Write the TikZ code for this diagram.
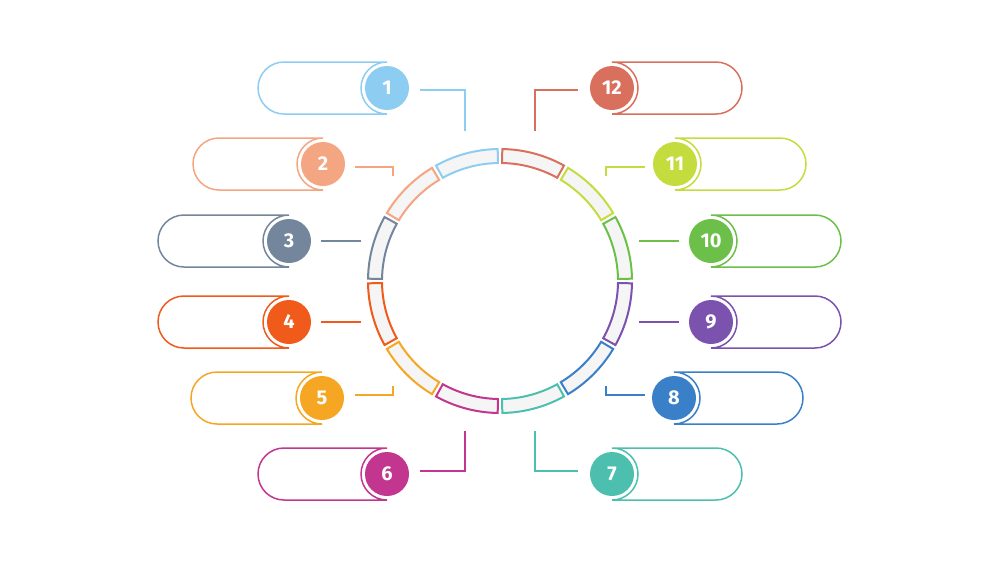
\documentclass[tikz,border=0pt]{standalone}
\usepackage{fontspec}
\setmainfont{Fira Sans}
\begin{document}
\begin{tikzpicture}[x=1pt,y=-1pt,
  pill/.style={line width=1.5pt, fill=white},
  badge/.style={circle, minimum size=44pt, inner sep=0pt, text=white, font=\bfseries\fontsize{20}{20}\selectfont},
  seg/.style={line width=2pt, fill=black!4},
  link/.style={line width=1.1pt}]
\useasboundingbox (0,0) rectangle (1000,563);
\definecolor{c1}{HTML}{8ECDF2}\definecolor{c2}{HTML}{F4A582}\definecolor{c3}{HTML}{74869C}
\definecolor{c4}{HTML}{F05A1A}\definecolor{c5}{HTML}{F5A623}\definecolor{c6}{HTML}{C2368F}
\definecolor{c7}{HTML}{4DBFAE}\definecolor{c8}{HTML}{3A80C8}\definecolor{c9}{HTML}{7B52AE}
\definecolor{c10}{HTML}{6CC04A}\definecolor{c11}{HTML}{C5DC3E}\definecolor{c12}{HTML}{D9705E}
% ring segments
\coordinate (O) at (500,281);
\foreach \k/\a in {1/91,2/121,3/151,4/181,5/211,6/241,7/271,8/301,9/331,10/1,11/31,12/61}{
  \draw[seg, draw=c\k] ([shift={(-\a:132)}]O) arc[start angle=-\a, end angle=-\a-28, radius=132]
     -- ([shift={(-\a-28:118)}]O) arc[start angle=-\a-28, end angle=-\a, radius=118] -- cycle;
}
% left pills
\foreach \k/\cx/\cy/\xl in {1/387/88/258,2/323/164/193,3/289/241/158,4/289/322/158,5/322/398/191,6/387/474/258}{
  \draw[pill, draw=c\k] (\cx,\cy-26) -- (\xl+26,\cy-26) arc[start angle=270, end angle=90, radius=26] -- (\cx,\cy+26)
     arc[start angle=90, end angle=270, radius=26] -- cycle;
  \node[badge, fill=c\k] (b\k) at (\cx,\cy) {\k};
}
% right pills
\foreach \k/\cx/\cy/\xr in {12/612/88/742,11/675/164/806,10/711/241/841,9/711/322/841,8/674/398/803,7/612/474/742}{
  \draw[pill, draw=c\k] (\cx,\cy-26) -- (\xr-26,\cy-26) arc[start angle=-90, end angle=90, radius=26] -- (\cx,\cy+26)
     arc[start angle=90, end angle=-90, radius=26] -- cycle;
  \node[badge, fill=c\k] (b\k) at (\cx,\cy) {\k};
}
% connectors
\foreach \k/\ax/\ay/\bx/\by/\ex/\ey in {1/420/90/465/90/465/131, 2/355/167/393/167/393/176,
   3/321/241/361/241/361/241, 4/321/322/361/322/361/322, 5/355/395/393/395/393/386, 6/420/471/465/471/465/431,
   12/578/90/535/90/535/131, 11/645/167/606/167/606/176, 10/679/241/639/241/639/241, 9/679/322/639/322/639/322,
   8/645/395/606/395/606/386, 7/578/471/535/471/535/431}{
  \coordinate (s\k) at (\ax,\ay); \coordinate (m\k) at (\bx,\by); \coordinate (e\k) at (\ex,\ey);
  \draw[link, draw=c\k] (s\k) -- (m\k) -- (e\k);
}
\end{tikzpicture}
\end{document}
